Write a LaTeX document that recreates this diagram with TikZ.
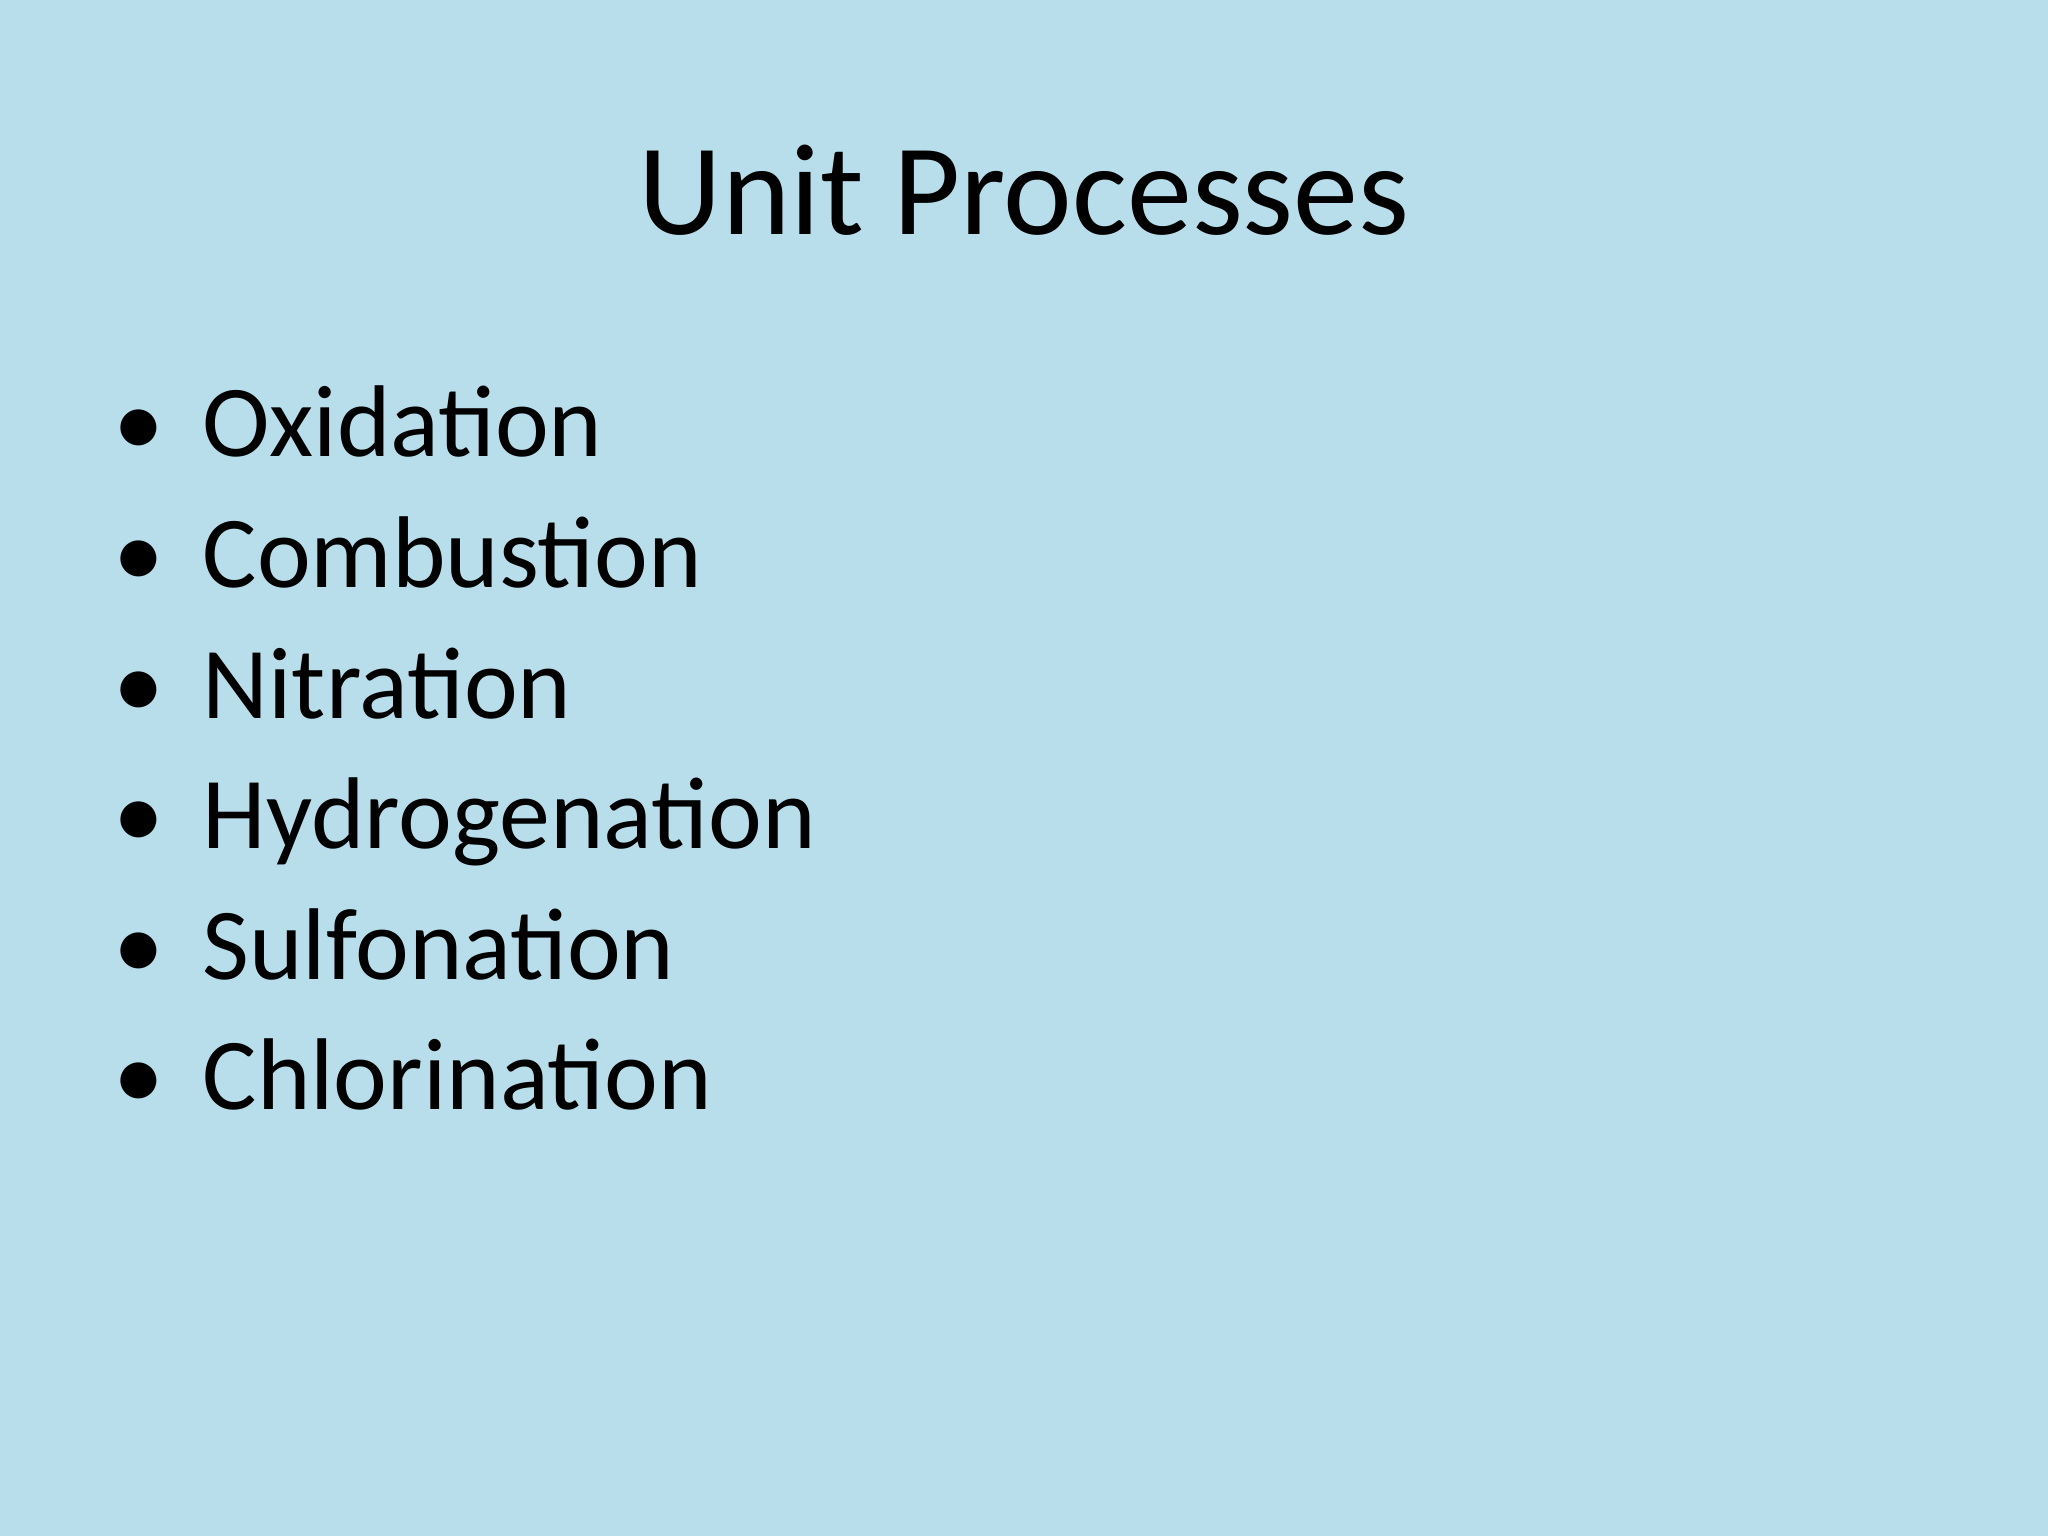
\documentclass[tikz,border=0pt]{standalone}
\usepackage{fontspec}
\setmainfont{Carlito}
\definecolor{bg}{RGB}{185,222,235}
\begin{document}
\begin{tikzpicture}[x=1cm,y=1cm,
  item/.style={anchor=base west,inner sep=0pt,font=\fontsize{29}{34}\selectfont},
  bul/.style={anchor=base,inner sep=0pt,font=\fontsize{29}{34}\selectfont}]
\fill[bg] (0,0) rectangle (20.48,15.36);
\useasboundingbox (0,0) rectangle (20.48,15.36);
\node[anchor=base,inner sep=0pt,font=\fontsize{37}{44}\selectfont] (title) at (10.24,13.01) {Unit Processes};
\foreach \t [count=\i] in {Oxidation,Combustion,Nitration,Hydrogenation,Sulfonation,Chlorination}{
  \pgfmathsetmacro{\yy}{15.36-4.57-1.306*(\i-1)}
  \node[bul] (b\i) at (1.39,\yy) {•};
  \node[item] (t\i) at (2.02,\yy) {\t};
}
\end{tikzpicture}
\end{document}
